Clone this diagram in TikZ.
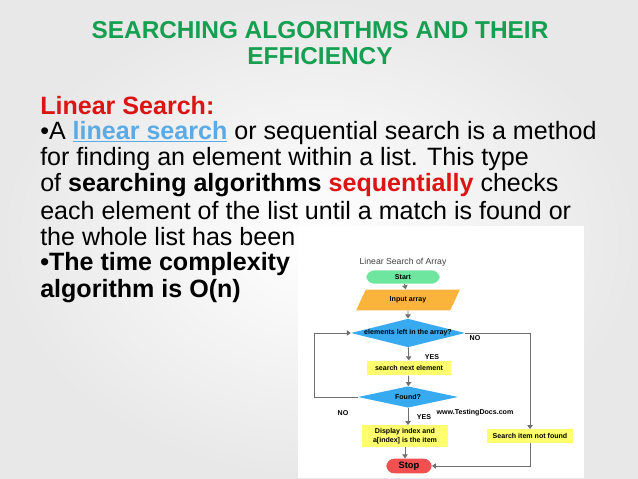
\documentclass[tikz,border=0pt]{standalone}
\usepackage{fontspec}
\setmainfont{Liberation Sans}
\usetikzlibrary{shapes.geometric,arrows.meta}
\definecolor{ttl}{RGB}{20,160,80}
\definecolor{redt}{RGB}{220,20,20}
\definecolor{lnk}{RGB}{90,170,230}
\definecolor{fgreen}{RGB}{110,230,160}
\definecolor{forange}{RGB}{250,180,60}
\definecolor{fblue}{RGB}{55,170,240}
\definecolor{fyel}{RGB}{255,255,110}
\definecolor{fred}{RGB}{240,80,80}
\definecolor{fline}{RGB}{110,110,110}
\tikzset{
 body/.style={anchor=west,inner sep=0pt,font=\fontsize{18.8}{20}\selectfont},
 fc/.style={font=\fontsize{5.3}{6.3}\selectfont\bfseries,inner sep=1pt,align=center},
 conn/.style={draw=fline,line width=0.7pt,-{Triangle[length=3pt,width=4pt]}},
 plain/.style={draw=fline,line width=0.7pt}
}
\begin{document}
\begin{tikzpicture}[x=0.75pt,y=-0.75pt]
\useasboundingbox (0,0) rectangle (638,478);
\shade[inner color=white,outer color=gray!18] (0,0) rectangle (638,478);
\node[ttl,font=\fontsize{18.3}{19}\selectfont\bfseries,align=center] (title) at (320,43) {SEARCHING ALGORITHMS AND THEIR\\EFFICIENCY};
\node[body,text=redt,font=\fontsize{18.8}{20}\selectfont\bfseries] (l0) at (40,106) {Linear Search:};
\node[body] (l1) at (40,133) {•A \textcolor{lnk}{\bfseries\underline{linear search}} or sequential search is a method};
\node[body] (l2) at (40,159) {for finding an element within a list. This type};
\node[body] (l3) at (40,185) {of \textbf{searching algorithms} \textcolor{redt}{\bfseries sequentially} checks};
\node[body] (l4) at (40,211) {each element of the list until a match is found or};
\node[body] (l5) at (40,237) {the whole list has been searched.};
\node[body,font=\fontsize{18.8}{20}\selectfont\bfseries] (l6) at (40,264) {•The time complexity};
\node[body,font=\fontsize{18.8}{20}\selectfont\bfseries] (l7) at (40,291) {algorithm is O(n)};
% flowchart image
\fill[white] (298,226) rectangle (584,478);
\node[font=\fontsize{6.5}{7}\selectfont,text=black!75] (ft) at (403,262) {Linear Search of Array};
\node[fc,fill=fgreen,rounded corners=6pt,minimum width=55pt,minimum height=10pt] (start) at (403,277) {Start};
\node[fc,fill=forange,trapezium,trapezium left angle=65,trapezium right angle=115,minimum width=78pt,minimum height=10pt,inner xsep=0pt] (inp) at (408,300) {Input array};
\node[fc,fill=fblue,diamond,aspect=4,minimum width=78pt,minimum height=20pt,inner sep=0pt] (d1) at (408,333) {elements left in the array?};
\node[fc,fill=fyel,minimum width=63pt,minimum height=11pt] (sne) at (409,368) {search next element};
\node[fc,fill=fblue,diamond,aspect=4.5,minimum width=75pt,minimum height=16pt,inner sep=0pt] (d2) at (408,397) {Found?};
\node[fc,fill=fyel,minimum width=64pt,minimum height=16pt] (disp) at (405,436) {Display index and\\a[index] is the item};
\node[fc,fill=fyel,minimum width=64pt,minimum height=10pt] (nf) at (530,436) {Search item not found};
\node[fc,fill=fred,rounded corners=6pt,minimum width=34pt,minimum height=11pt,font=\fontsize{7}{8}\selectfont\bfseries] (stop) at (409,466) {Stop};
\node[fc] (no1) at (475,338) {NO};
\node[fc] (yes1) at (432,357) {YES};
\node[fc] (no2) at (343,413) {NO};
\node[fc] (yes2) at (424,417) {YES};
\node[fc] (www) at (475,413) {www.TestingDocs.com};
\coordinate (lb) at (314,397);
\coordinate (lt) at (314,333);
\coordinate (rt) at (530,333);
\coordinate (rb) at (530,466);
\draw[conn] (start) -- (inp);
\draw[conn] (inp) -- (d1);
\draw[conn] (d1) -- (sne);
\draw[conn] (sne) -- (d2);
\draw[conn] (d2.south) -- (d2.south |- disp.north);
\draw[conn] (disp.south) -- (disp.south |- stop.north);
\draw[conn] (d2.west) -- (lb) -- (lt) -- (d1.west);
\draw[conn] (d1.east) -- (rt) -- (nf.north);
\draw[conn] (nf.south) -- (rb) -- (stop.east);
\end{tikzpicture}
\end{document}
